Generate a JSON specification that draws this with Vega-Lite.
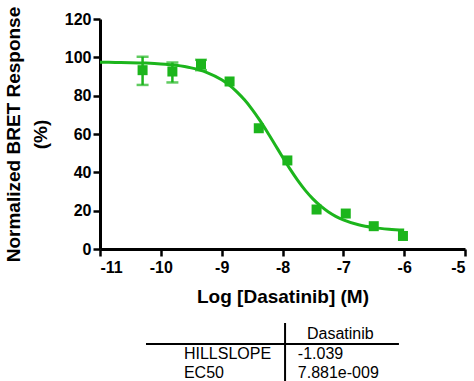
{
  "$schema": "https://vega.github.io/schema/vega-lite/v6.json",
  "background": "white",
  "padding": {"left": 4, "top": 6, "right": 5, "bottom": 0},
  "spacing": 16,
  "config": {
    "view": {"stroke": null},
    "font": "Liberation Sans",
    "axis": {
      "grid": false,
      "domainColor": "black",
      "domainWidth": 3,
      "tickColor": "black",
      "tickWidth": 2.5,
      "tickSize": 7,
      "labelFont": "Liberation Sans",
      "labelFontSize": 16,
      "labelFontWeight": "bold",
      "labelColor": "black",
      "labelOverlap": false,
      "labelExpr": "'' + datum.value",
      "titleFont": "Liberation Sans",
      "titleFontSize": 19,
      "titleFontWeight": "bold",
      "titleColor": "black"
    }
  },
  "datasets": {
    "curve": [
      {"x": -11, "y": 97.41}, {"x": -10.75, "y": 97.34}, {"x": -10.5, "y": 97.21}, {"x": -10.25, "y": 96.98},
      {"x": -10, "y": 96.57}, {"x": -9.75, "y": 95.82}, {"x": -9.5, "y": 94.48}, {"x": -9.25, "y": 92.17},
      {"x": -9, "y": 88.26}, {"x": -8.875, "y": 85.48}, {"x": -8.75, "y": 82.02}, {"x": -8.625, "y": 77.84},
      {"x": -8.5, "y": 72.9}, {"x": -8.375, "y": 67.26}, {"x": -8.25, "y": 61.07}, {"x": -8.125, "y": 54.56},
      {"x": -8, "y": 48.0}, {"x": -7.875, "y": 41.67}, {"x": -7.75, "y": 35.81}, {"x": -7.625, "y": 30.61},
      {"x": -7.5, "y": 26.16}, {"x": -7.375, "y": 22.45}, {"x": -7.25, "y": 19.44}, {"x": -7.125, "y": 17.05},
      {"x": -7, "y": 15.18}, {"x": -6.75, "y": 12.63}, {"x": -6.5, "y": 11.16}, {"x": -6.25, "y": 10.34},
      {"x": -6, "y": 9.87}
    ],
    "points": [
      {"x": -10.3, "y": 93.3, "lo": 85.6, "hi": 100.3},
      {"x": -9.81, "y": 92.6, "lo": 86.9, "hi": 97.3},
      {"x": -9.34, "y": 96.5, "lo": 93.3, "hi": 98.7},
      {"x": -8.87, "y": 87.4},
      {"x": -8.39, "y": 63.0},
      {"x": -7.92, "y": 46.2},
      {"x": -7.44, "y": 20.6},
      {"x": -6.96, "y": 18.5},
      {"x": -6.5, "y": 11.9},
      {"x": -6.02, "y": 6.8}
    ],
    "tableText": [
      {"col": 56.7, "row": 10.5, "text": "Dasatinib"},
      {"col": 23.0, "row": 31, "text": "HILLSLOPE"},
      {"col": 54.2, "row": 31, "text": "-1.039"},
      {"col": 23.0, "row": 50, "text": "EC50"},
      {"col": 54.2, "row": 50, "text": "7.881e-009"}
    ],
    "tableLines": [
      {"x1": 50.7, "x2": 50.7, "y1": 0, "y2": 60},
      {"x1": 12.6, "x2": 81.9, "y1": 21, "y2": 21}
    ]
  },
  "vconcat": [
    {
      "width": 365,
      "height": 230,
      "encoding": {
        "x": {
          "field": "x", "type": "quantitative",
          "scale": {"domain": [-11, -5], "nice": false, "zero": false},
          "axis": {"values": [-11, -10, -9, -8, -7, -6, -5], "title": "Log [Dasatinib] (M)", "titlePadding": 12, "labelPadding": 3}
        }
      },
      "layer": [
        {
          "data": {"name": "curve"},
          "mark": {"type": "line", "color": "#1cb51c", "strokeWidth": 3, "interpolate": "monotone"},
          "encoding": {
            "y": {
              "field": "y", "type": "quantitative",
              "scale": {"domain": [0, 120], "nice": false},
              "axis": {"values": [0, 20, 40, 60, 80, 100, 120], "labelOverlap": false, "title": ["Normalized BRET Response", "(%)"], "titleLineHeight": 27, "titlePadding": 14, "labelPadding": 2}
            }
          }
        },
        {
          "data": {"name": "points"},
          "transform": [{"filter": "isValid(datum.lo)"}],
          "mark": {"type": "errorbar", "color": "#1cb51c", "thickness": 2.5, "ticks": {"size": 12, "thickness": 2.5, "color": "#1cb51c"}},
          "encoding": {
            "y": {
              "field": "lo", "type": "quantitative",
              "scale": {"domain": [0, 120], "nice": false},
              "axis": {"values": [0, 20, 40, 60, 80, 100, 120], "labelOverlap": false, "title": ["Normalized BRET Response", "(%)"], "titleLineHeight": 27, "titlePadding": 14, "labelPadding": 2}
            },
            "y2": {"field": "hi"}
          }
        },
        {
          "data": {"name": "points"},
          "mark": {"type": "square", "color": "#1cb51c", "filled": true, "opacity": 1, "size": 100},
          "encoding": {
            "y": {
              "field": "y", "type": "quantitative",
              "scale": {"domain": [0, 120], "nice": false},
              "axis": {"values": [0, 20, 40, 60, 80, 100, 120], "labelOverlap": false, "title": ["Normalized BRET Response", "(%)"], "titleLineHeight": 27, "titlePadding": 14, "labelPadding": 2}
            }
          }
        }
      ]
    },
    {
      "width": 365,
      "height": 60,
      "layer": [
        {
          "data": {"name": "tableLines"},
          "mark": {"type": "rule", "color": "black", "strokeWidth": 2},
          "encoding": {
            "x": {"field": "x1", "type": "quantitative", "scale": {"domain": [0, 100], "nice": false}, "axis": null},
            "x2": {"field": "x2"},
            "y": {"field": "y1", "type": "quantitative", "scale": {"domain": [0, 60], "nice": false, "reverse": true}, "axis": null},
            "y2": {"field": "y2"}
          }
        },
        {
          "data": {"name": "tableText"},
          "mark": {"type": "text", "align": "left", "baseline": "middle", "fontSize": 16, "font": "Liberation Sans", "color": "black"},
          "encoding": {
            "x": {"field": "col", "type": "quantitative", "scale": {"domain": [0, 100], "nice": false}, "axis": null},
            "y": {"field": "row", "type": "quantitative", "scale": {"domain": [0, 60], "nice": false, "reverse": true}, "axis": null},
            "text": {"field": "text"}
          }
        }
      ]
    }
  ]
}
